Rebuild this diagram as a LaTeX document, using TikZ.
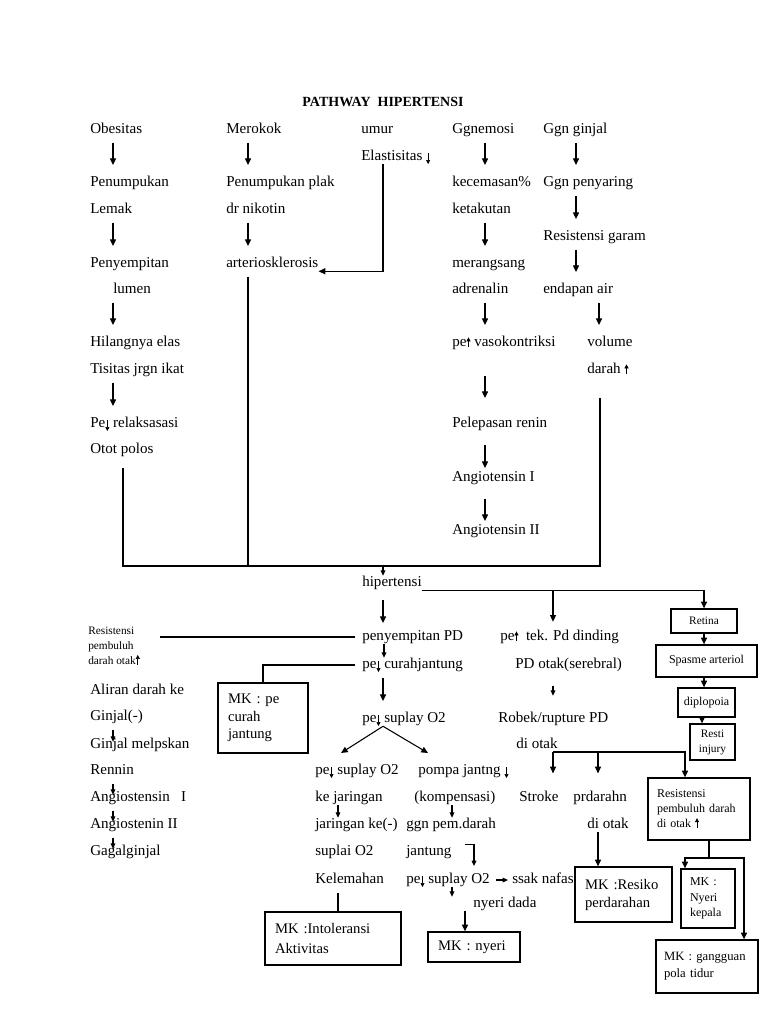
\documentclass[tikz,border=0pt]{standalone}
\usepackage{fontspec}
\setmainfont{Liberation Serif}
\usetikzlibrary{arrows.meta,calc}
\tikzset{
  tx/.style={anchor=west, inner sep=0pt, text height=8pt, text depth=2.5pt, font=\fontsize{11.3}{13}\selectfont},
  kecil/.style={anchor=west, inner sep=0pt, align=left, font=\fontsize{8.5}{11.25}\selectfont},
  kotak/.style={draw, line width=1pt, inner sep=0pt, align=left, font=\fontsize{11}{13}\selectfont},
  kotakk/.style={draw, line width=1pt, inner sep=0pt, align=center, font=\fontsize{9}{11.25}\selectfont},
  garis/.style={line width=0.8pt},
  arr0/.style={garis, -{Triangle[length=5pt,width=4.5pt]}},
  arr/.style={arr0, shorten <=4pt, shorten >=8pt},
  sarr/.style={garis, -{Triangle[length=4pt,width=3.5pt]}},
}
\newcommand\turun{\tikz[baseline=0pt]\draw[line width=0.5pt,-{Triangle[length=3pt,width=3pt]}] (0pt,5.5pt) -- (0pt,-2.5pt);}
\newcommand\naik{\tikz[baseline=0pt]\draw[line width=0.5pt,-{Triangle[length=3pt,width=3pt]}] (0pt,-0.5pt) -- (0pt,7pt);}
\begin{document}
\begin{tikzpicture}[x=0.75pt,y=-0.75pt]
\useasboundingbox (0,0) rectangle (768,1024);
\node[font=\bfseries\fontsize{10.5}{12}\selectfont] (judul) at (383,102) {PATHWAY\ \ HIPERTENSI};

\coordinate (c1) at (113,0);
\coordinate (c2) at (248,0);
\coordinate (c3) at (383,0);
\coordinate (c4) at (485,0);
\coordinate (c5) at (576,0);
\coordinate (c6) at (599,0);

\node[tx] (o1) at (90,130) {Obesitas};
\node[tx] (o2) at (90,183) {Penumpukan};
\node[tx] (o3) at (90,210) {Lemak};
\node[tx] (o4) at (90,264) {Penyempitan};
\node[tx] (o5) at (113,290) {lumen};
\node[tx] (o6) at (90,343) {Hilangnya elas};
\node[tx] (o7) at (90,370) {Tisitas jrgn ikat};
\node[tx] (o8) at (90,424) {Pe\turun{} relaksasasi};
\node[tx] (o9) at (90,450) {Otot polos};

\node[tx] (m1) at (226,130) {Merokok};
\node[tx] (m2) at (226,183) {Penumpukan plak};
\node[tx] (m3) at (226,210) {dr nikotin};
\node[tx] (m4) at (226,264) {arteriosklerosis};

\node[tx] (u1) at (361,130) {umur};
\node[tx] (u2) at (361,157) {Elastisitas \turun};

\node[tx] (g1) at (452,130) {Ggnemosi};
\node[tx] (g2) at (452,183) {kecemasan\%};
\node[tx] (g3) at (452,210) {ketakutan};
\node[tx] (g4) at (452,264) {merangsang};
\node[tx] (g5) at (452,290) {adrenalin};
\node[tx] (g6) at (452,343) {pe\naik{} vasokontriksi};
\node[tx] (g7) at (452,424) {Pelepasan renin};
\node[tx] (g8) at (452,478) {Angiotensin I};
\node[tx] (g9) at (452,531) {Angiotensin II};

\node[tx] (k1) at (543,130) {Ggn ginjal};
\node[tx] (k2) at (543,183) {Ggn penyaring};
\node[tx] (k3) at (543,237) {Resistensi garam};
\node[tx] (k4) at (543,290) {endapan air};
\node[tx] (k5) at (587,343) {volume};
\node[tx] (k6) at (587,370) {darah \naik};

\draw[arr] (o1.south -| c1) -- (o2.north -| c1);
\draw[arr] (o3.south -| c1) -- (o4.north -| c1);
\draw[arr] (o5.south -| c1) -- (o6.north -| c1);
\draw[arr] (o7.south -| c1) -- (o8.north -| c1);
\draw[arr] (m1.south -| c2) -- (m2.north -| c2);
\draw[arr] (m3.south -| c2) -- (m4.north -| c2);
\draw[arr] (g1.south -| c4) -- (g2.north -| c4);
\draw[arr] (g3.south -| c4) -- (g4.north -| c4);
\draw[arr] (g5.south -| c4) -- (g6.north -| c4);
\draw[arr0, shorten <=19pt, shorten >=14pt] (g6.south -| c4) -- (g7.north -| c4);
\draw[arr0, shorten <=10pt, shorten >=2pt] (g7.south -| c4) -- (g8.north -| c4);
\draw[arr0, shorten <=10pt, shorten >=2pt] (g8.south -| c4) -- (g9.north -| c4);
\draw[arr] (k1.south -| c5) -- (k2.north -| c5);
\draw[arr] (k2.south -| c5) -- (k3.north -| c5);
\draw[arr] (k3.south -| c5) -- (k4.north -| c5);
\draw[arr] (k4.south -| c6) -- (k5.north -| c6);
\draw[arr0] (u2.south -| c3) |- (m4.south east);

\coordinate (jn) at (383,566);
\coordinate (vd) at (600,398);
\draw[garis, shorten <=8pt] (o9.south -| 123,0) |- (jn) -| (vd);
\draw[garis, shorten <=4pt] (m4.south -| c2) -- (jn -| c2);

\node[tx] (hp) at (362,583) {hipertensi};
\draw[sarr] (jn) -- (hp.north -| jn);

\node[kecil] (r0) at (88,646) {Resistensi\\pembuluh\\darah otak\naik};
\node[tx] (a1) at (90,691) {Aliran darah ke};
\node[tx] (a2) at (90,717) {Ginjal(-)};
\node[tx] (a3) at (90,745) {Ginjal melpskan};
\node[tx] (a4) at (90,771) {Rennin};
\node[tx] (a5) at (90,798) {Angiostensin\ \ \ I};
\node[tx] (a6) at (90,825) {Angiostenin II};
\node[tx] (a7) at (90,852) {Gagalginjal};
\draw[sarr, shorten <=4pt, shorten >=-3pt] (a2.south -| c1) -- (a3.north -| c1);
\draw[sarr, shorten <=4pt, shorten >=-3pt] (a4.south -| c1) -- (a5.north -| c1);
\draw[sarr, shorten <=4pt, shorten >=-3pt] (a5.south -| c1) -- (a6.north -| c1);
\draw[sarr, shorten <=4pt, shorten >=-3pt] (a6.south -| c1) -- (a7.north -| c1);

\node[tx] (py) at (362,637) {penyempitan PD};
\node[tx] (cj) at (362,665) {pe\turun{} curahjantung};
\node[tx] (so) at (362,719) {pe\turun{} suplay O2};
\node[kotak, minimum width=67.5pt, minimum height=52.5pt, text width=52.5pt] (mkpe) at (263,718) {MK : pe\\curah\\jantung};
\coordinate (rl) at (160,637);
\draw[garis, shorten <=5pt] (py.west) -- (rl);
\draw[garis, shorten <=5pt] (cj.west) -| (mkpe.north);
\draw[arr0, shorten <=7.5pt, shorten >=5pt] (hp.south -| c3) -- (py.north -| c3);
\draw[sarr] (py.south -| 384,0) -- (cj.north -| 384,0);
\draw[arr] (cj.south -| c3) -- (so.north -| c3);

\coordinate (dl) at (341,753);
\coordinate (dr) at (428,753);
\draw[arr0] (so.south -| c3) -- (dl);
\draw[arr0] (so.south -| c3) -- (dr);

\node[tx] (s1) at (315,771) {pe\turun{} suplay O2};
\node[tx] (s2) at (315,798) {ke jaringan};
\node[tx] (s3) at (315,825) {jaringan ke(-)};
\node[tx] (s4) at (315,852) {suplai O2};
\node[tx] (s5) at (315,880) {Kelemahan};
\node[tx] (p1) at (418,771) {pompa jantng \turun};
\node[tx] (p2) at (414,798) {(kompensasi)};
\node[tx] (p3) at (406,825) {ggn pem.darah};
\node[tx] (p4) at (406,852) {jantung};
\node[tx] (p5) at (406,880) {pe\turun{} suplay O2};
\node[tx] (ss) at (512,880) {ssak nafas};
\node[tx] (nd) at (473,904) {nyeri dada};
\node[kotak, minimum width=102pt, minimum height=39.75pt, text width=87pt, font=\fontsize{11}{15.5}\selectfont] (mkint) at (333,938.5) {MK :Intoleransi\\Aktivitas};
\node[kotak, minimum width=69pt, minimum height=22.5pt, text width=54pt] (mkny) at (474,947) {MK : nyeri};

\draw[sarr] (s2.south -| 338,0) -- (s3.north -| 338,0);
\draw[sarr] (p2.south -| 452,0) -- (p3.north -| 452,0);
\draw[sarr, shorten <=10pt, shorten >=5pt] (p4.north east) -| (p5.north -| 474,0);
\draw[sarr, shorten <=4.5pt, shorten >=3pt] (p5.east) -- (ss.west);
\draw[sarr] (p5.south -| 452,0) -- (nd.north -| 452,0);
\draw[arr0] (nd.south -| 465,0) -- (mkny.north -| 465,0);
\draw[garis, shorten <=4pt] (s5.south -| 338,0) -- (mkint.north -| 338,0);

\node[tx] (t1) at (500,637) {pe\naik\ \ tek. Pd dinding};
\node[tx] (t2) at (515,665) {PD otak(serebral)};
\node[tx] (t3) at (498,719) {Robek/rupture PD};
\node[tx] (t4) at (516,745) {di otak};
\node[tx] (st) at (519,798) {Stroke};
\node[tx] (pr) at (573,798) {prdarahn};
\node[tx] (pd) at (587,825) {di otak};
\node[kotak, minimum width=72.75pt, minimum height=41.25pt, text width=57.75pt, font=\fontsize{11}{13.5}\selectfont] (mkres) at (623.5,894.5) {MK :Resiko\\perdarahan};

\draw[arr0, shorten >=6pt] (hp.south east -| 553,0) -- (t1.north -| 553,0);
\draw[sarr, shorten <=10pt, shorten >=12pt] (t2.south -| 553,0) -- (t3.north -| 553,0);
\coordinate (dk) at (553,752);
\draw[arr0, shorten >=13pt] (dk) -- (st.north -| dk);
\draw[arr0, shorten >=13pt] (dk -| 598,0) -- (pr.north -| 598,0);
\draw[arr0] (pd.south -| 598,0) -- (mkres.north -| 598,0);

\node[kotakk, minimum width=49.5pt, minimum height=18pt, font=\fontsize{8.5}{11}\selectfont] (ret) at (704,621) {Retina};
\node[kotakk, minimum width=75.75pt, minimum height=24pt] (spa) at (706.5,661) {Spasme arteriol};
\node[kotakk, minimum width=42.75pt, minimum height=21.75pt] (dip) at (706.5,702.5) {diplopoia};
\node[kotakk, minimum width=33.75pt, minimum height=27pt, font=\fontsize{8.5}{11.25}\selectfont] (rest) at (712.5,742) {Resti\\injury};
\node[kotakk, align=left, text width=63pt, minimum width=76.5pt, minimum height=46.5pt] (rpd) at (699,809) {Resistensi\\pembuluh darah\\di otak \naik};
\node[kotakk, align=left, text width=27pt, minimum width=40.5pt, minimum height=44.25pt, font=\fontsize{9}{11.5}\selectfont] (mknk) at (708,898.5) {MK :\\Nyeri\\kepala};
\node[kotakk, align=left, text width=64.5pt, minimum width=76.5pt, minimum height=39.75pt, font=\fontsize{9.5}{12.75}\selectfont] (mkgp) at (707,966.5) {MK : gangguan\\pola tidur};

\draw[arr0] (hp.south east) -| (ret.north);
\draw[arr0] (dk) -| (rpd.north -| 685,0);
\draw[arr0] (ret.south) -- (ret.south |- spa.north);
\draw[arr0] (spa.south -| ret.south) -- (dip.north -| ret.south);
\draw[arr0] (dip.south -| 702,0) -- (rest.north -| 702,0);
\coordinate (sp) at (709,858);
\draw[garis] (rpd.south -| sp) -- (sp);
\draw[arr0] (sp) -| (mknk.north -| 685,0);
\draw[arr0] (sp) -| (mkgp.north -| 744,0);
\end{tikzpicture}
\end{document}
